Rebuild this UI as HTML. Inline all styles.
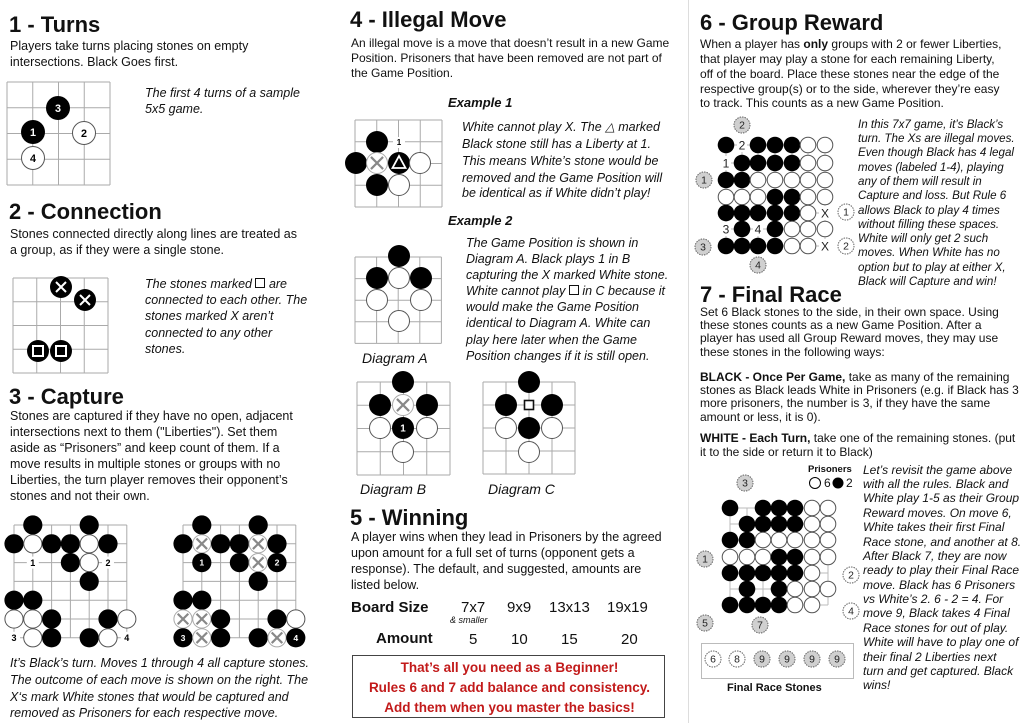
<!DOCTYPE html>
<html><head><meta charset="utf-8">
<style>
body{margin:0;width:1024px;height:723px;background:#fff;position:relative;overflow:hidden;font-family:"Liberation Sans",sans-serif;color:#111}
.t{position:absolute;white-space:nowrap;font-size:12.5px;line-height:1}
.s{font-size:11.6px}
.m{font-size:12px}
.i{font-style:italic}
.h{position:absolute;white-space:nowrap;font-size:22px;font-weight:bold;line-height:1}
.b{font-weight:bold}
svg{position:absolute;left:0;top:0}
</style></head><body>
<div style="position:absolute;left:688px;top:0;width:1px;height:723px;background:#ddd"></div>

<!-- Column 1 -->
<div class="h" style="left:9px;top:14px">1 - Turns</div>
<div class="t" style="left:10px;top:40px">Players take turns placing stones on empty</div>
<div class="t" style="left:10px;top:56px">intersections. Black Goes first.</div>
<div class="t i" style="left:145px;top:87px">The first 4 turns of a sample</div>
<div class="t i" style="left:145px;top:103px">5x5 game.</div>

<div class="h" style="left:9px;top:201px">2 - Connection</div>
<div class="t" style="left:10px;top:228px">Stones connected directly along lines are treated as</div>
<div class="t" style="left:10px;top:244px">a group, as if they were a single stone.</div>
<div class="t i" style="left:145px;top:278px">The stones marked <span style="display:inline-block;width:8px;height:8px;border:1px solid #111"></span> are</div>
<div class="t i" style="left:145px;top:294px">connected to each other. The</div>
<div class="t i" style="left:145px;top:310px">stones marked X aren’t</div>
<div class="t i" style="left:145px;top:327px">connected to any other</div>
<div class="t i" style="left:145px;top:343px">stones.</div>

<div class="h" style="left:9px;top:386px">3 - Capture</div>
<div class="t" style="left:10px;top:410px">Stones are captured if they have no open, adjacent</div>
<div class="t" style="left:10px;top:426px">intersections next to them ("Liberties"). Set them</div>
<div class="t" style="left:10px;top:442px">aside as “Prisoners” and keep count of them. If a</div>
<div class="t" style="left:10px;top:458px">move results in multiple stones or groups with no</div>
<div class="t" style="left:10px;top:474px">Liberties, the turn player removes their opponent’s</div>
<div class="t" style="left:10px;top:490px">stones and not their own.</div>
<div class="t i" style="left:10px;top:657px">It’s Black’s turn. Moves 1 through 4 all capture stones.</div>
<div class="t i" style="left:10px;top:674px">The outcome of each move is shown on the right. The</div>
<div class="t i" style="left:10px;top:691px">X‘s mark White stones that would be captured and</div>
<div class="t i" style="left:10px;top:707px">removed as Prisoners for each respective move.</div>

<!-- Column 2 -->
<div class="h" style="left:350px;top:9px">4 - Illegal Move</div>
<div class="t m" style="left:351px;top:37px">An illegal move is a move that doesn’t result in a new Game</div>
<div class="t m" style="left:351px;top:52px">Position. Prisoners that have been removed are not part of</div>
<div class="t m" style="left:351px;top:67px">the Game Position.</div>
<div class="t b i" style="left:448px;top:96px;font-size:13px">Example 1</div>
<div class="t i" style="left:462px;top:121px">White cannot play X. The △ marked</div>
<div class="t i" style="left:462px;top:138px">Black stone still has a Liberty at 1.</div>
<div class="t i" style="left:462px;top:155px">This means White’s stone would be</div>
<div class="t i" style="left:462px;top:172px">removed and the Game Position will</div>
<div class="t i" style="left:462px;top:187px">be identical as if White didn’t play!</div>
<div class="t b i" style="left:448px;top:214px;font-size:13px">Example 2</div>
<div class="t i" style="left:466px;top:237px">The Game Position is shown in</div>
<div class="t i" style="left:466px;top:253px">Diagram A. Black plays 1 in B</div>
<div class="t i" style="left:466px;top:269px">capturing the X marked White stone.</div>
<div class="t i" style="left:466px;top:285px">White cannot play <span style="display:inline-block;width:8px;height:8px;border:1px solid #111"></span> in C because it</div>
<div class="t i" style="left:466px;top:301px">would make the Game Position</div>
<div class="t i" style="left:466px;top:317px">identical to Diagram A. White can</div>
<div class="t i" style="left:466px;top:334px">play here later when the Game</div>
<div class="t i" style="left:466px;top:350px">Position changes if it is still open.</div>
<div class="t i" style="left:362px;top:351px;font-size:14px">Diagram A</div>
<div class="t i" style="left:360px;top:482px;font-size:14px">Diagram B</div>
<div class="t i" style="left:488px;top:482px;font-size:14px">Diagram C</div>

<div class="h" style="left:350px;top:507px">5 - Winning</div>
<div class="t" style="left:351px;top:531px">A player wins when they lead in Prisoners by the agreed</div>
<div class="t" style="left:351px;top:547px">upon amount for a full set of turns (opponent gets a</div>
<div class="t" style="left:351px;top:563px">response). The default, and suggested, amounts are</div>
<div class="t" style="left:351px;top:579px">listed below.</div>
<div class="t b" style="left:351px;top:600px;font-size:15px">Board Size</div>
<div class="t" style="left:461px;top:600px;font-size:15px">7x7</div>
<div class="t" style="left:507px;top:600px;font-size:15px">9x9</div>
<div class="t" style="left:549px;top:600px;font-size:15px">13x13</div>
<div class="t" style="left:607px;top:600px;font-size:15px">19x19</div>
<div class="t i" style="left:450px;top:616px;font-size:9px">&amp; smaller</div>
<div class="t b" style="left:376px;top:631px;font-size:15px">Amount</div>
<div class="t" style="left:469px;top:632px;font-size:15px">5</div>
<div class="t" style="left:511px;top:632px;font-size:15px">10</div>
<div class="t" style="left:561px;top:632px;font-size:15px">15</div>
<div class="t" style="left:621px;top:632px;font-size:15px">20</div>
<div style="position:absolute;left:352px;top:655px;width:313px;height:63px;border:1px solid #444;box-sizing:border-box"></div>
<div class="t b" style="left:352px;width:315px;text-align:center;top:661px;font-size:13.5px;color:#c21a1a">That’s all you need as a Beginner!</div>
<div class="t b" style="left:352px;width:315px;text-align:center;top:681px;font-size:13.5px;color:#c21a1a">Rules 6 and 7 add balance and consistency.</div>
<div class="t b" style="left:352px;width:315px;text-align:center;top:701px;font-size:13.5px;color:#c21a1a">Add them when you master the basics!</div>

<!-- Column 3 -->
<div class="h" style="left:700px;top:12px">6 - Group Reward</div>
<div class="t m" style="left:700px;top:38px">When a player has <b>only</b> groups with 2 or fewer Liberties,</div>
<div class="t m" style="left:700px;top:53px">that player may play a stone for each remaining Liberty,</div>
<div class="t m" style="left:700px;top:68px">off of the board. Place these stones near the edge of the</div>
<div class="t m" style="left:700px;top:83px">respective group(s) or to the side, wherever they’re easy</div>
<div class="t m" style="left:700px;top:97px">to track. This counts as a new Game Position.</div>
<div class="t s i" style="left:858px;top:119px">In this 7x7 game, it’s Black’s</div>
<div class="t s i" style="left:858px;top:133px">turn. The Xs are illegal moves.</div>
<div class="t s i" style="left:858px;top:147px">Even though Black has 4 legal</div>
<div class="t s i" style="left:858px;top:162px">moves (labeled 1-4), playing</div>
<div class="t s i" style="left:858px;top:176px">any of them will result in</div>
<div class="t s i" style="left:858px;top:190px">Capture and loss. But Rule 6</div>
<div class="t s i" style="left:858px;top:205px">allows Black to play 4 times</div>
<div class="t s i" style="left:858px;top:219px">without filling these spaces.</div>
<div class="t s i" style="left:858px;top:233px">White will only get 2 such</div>
<div class="t s i" style="left:858px;top:247px">moves. When White has no</div>
<div class="t s i" style="left:858px;top:262px">option but to play at either X,</div>
<div class="t s i" style="left:858px;top:276px">Black will Capture and win!</div>

<div class="h" style="left:700px;top:284px">7 - Final Race</div>
<div class="t m" style="left:700px;top:306px">Set 6 Black stones to the side, in their own space. Using</div>
<div class="t m" style="left:700px;top:319px">these stones counts as a new Game Position. After a</div>
<div class="t m" style="left:700px;top:332px">player has used all Group Reward moves, they may use</div>
<div class="t m" style="left:700px;top:346px">these stones in the following ways:</div>
<div class="t m" style="left:700px;top:371px"><b>BLACK - Once Per Game,</b> take as many of the remaining</div>
<div class="t m" style="left:700px;top:384px">stones as Black leads White in Prisoners (e.g. if Black has 3</div>
<div class="t m" style="left:700px;top:397px">more prisoners, the number is 3, if they have the same</div>
<div class="t m" style="left:700px;top:411px">amount or less, it is 0).</div>
<div class="t m" style="left:700px;top:432px"><b>WHITE - Each Turn,</b> take one of the remaining stones. (put</div>
<div class="t m" style="left:700px;top:446px">it to the side or return it to Black)</div>
<div class="t m i" style="left:863px;top:464px">Let’s revisit the game above</div>
<div class="t m i" style="left:863px;top:478px">with all the rules. Black and</div>
<div class="t m i" style="left:863px;top:492px">White play 1-5 as their Group</div>
<div class="t m i" style="left:863px;top:507px">Reward moves. On move 6,</div>
<div class="t m i" style="left:863px;top:521px">White takes their first Final</div>
<div class="t m i" style="left:863px;top:536px">Race stone, and another at 8.</div>
<div class="t m i" style="left:863px;top:550px">After Black 7, they are now</div>
<div class="t m i" style="left:863px;top:564px">ready to play their Final Race</div>
<div class="t m i" style="left:863px;top:579px">move. Black has 6 Prisoners</div>
<div class="t m i" style="left:863px;top:593px">vs White’s 2. 6 - 2 = 4. For</div>
<div class="t m i" style="left:863px;top:607px">move 9, Black takes 4 Final</div>
<div class="t m i" style="left:863px;top:622px">Race stones for out of play.</div>
<div class="t m i" style="left:863px;top:636px">White will have to play one of</div>
<div class="t m i" style="left:863px;top:651px">their final 2 Liberties next</div>
<div class="t m i" style="left:863px;top:665px">turn and get captured. Black</div>
<div class="t m i" style="left:863px;top:679px">wins!</div>
<div class="t b" style="left:808px;top:465px;font-size:9.5px">Prisoners</div>
<div class="t" style="left:824px;top:477px;font-size:12px">6</div>
<div class="t" style="left:846px;top:477px;font-size:12px">2</div>
<div style="position:absolute;left:701px;top:643px;width:153px;height:36px;border:1px solid #bbb;box-sizing:border-box"></div>
<div class="t b" style="left:727px;top:683px;font-size:11px">Final Race Stones</div>

<svg id="sv" width="1024" height="723" xmlns="http://www.w3.org/2000/svg"></svg>
<script>
var o='';
function grid(x,y,c,r,s){for(var i=0;i<=c;i++)o+='<line x1="'+(x+i*s)+'" y1="'+y+'" x2="'+(x+i*s)+'" y2="'+(y+r*s)+'" stroke="#aaa" stroke-width="1"/>';for(var j=0;j<=r;j++)o+='<line x1="'+x+'" y1="'+(y+j*s)+'" x2="'+(x+c*s)+'" y2="'+(y+j*s)+'" stroke="#aaa" stroke-width="1"/>';}
function txt(x,y,t,fs,col,w){o+='<text x="'+x+'" y="'+(y+fs*0.36)+'" font-family="Liberation Sans,sans-serif" font-size="'+fs+'" font-weight="'+(w||'bold')+'" fill="'+col+'" text-anchor="middle">'+t+'</text>';}
function B(x,y,r,l){o+='<circle cx="'+x+'" cy="'+y+'" r="'+r+'" fill="#000"/>';if(l)txt(x,y,l,r*0.9,'#fff');}
function W(x,y,r,l){o+='<circle cx="'+x+'" cy="'+y+'" r="'+(r-0.5)+'" fill="#fff" stroke="#555" stroke-width="1"/>';if(l)txt(x,y,l,r*0.9,'#000');}
function X(x,y,r){o+='<circle cx="'+x+'" cy="'+y+'" r="'+(r-0.5)+'" fill="#fff" stroke="#aaa"/>';var d=r*0.55;o+='<path d="M'+(x-d)+' '+(y-d)+'L'+(x+d)+' '+(y+d)+'M'+(x+d)+' '+(y-d)+'L'+(x-d)+' '+(y+d)+'" stroke="#888" stroke-width="2.2"/>';}
function G(x,y,r,l){o+='<circle cx="'+x+'" cy="'+y+'" r="'+r+'" fill="#d0d0d0" stroke="#666" stroke-dasharray="1.5 1"/>';txt(x,y,l,r*1.3,'#222','normal');}
function WG(x,y,r,l){o+='<circle cx="'+x+'" cy="'+y+'" r="'+r+'" fill="#fff" stroke="#666" stroke-dasharray="1.5 1"/>';txt(x,y,l,r*1.3,'#222','normal');}
function L(x,y,l,fs){txt(x,y,l,fs||9,'#000');}
grid(7,82,4,4,25.75);
B(58,108,12,'3');B(33,132,12,'1');W(84,133,12,'2');W(33,158,12,'4');
grid(13,278,4,4,23.75);
B(61,287,11);o+='<path d="M56 282L66 292M66 282L56 292" stroke="#fff" stroke-width="2"/>';
B(85,300,11);o+='<path d="M80 295L90 305M90 295L80 305" stroke="#fff" stroke-width="2"/>';
B(38,351,11);o+='<rect x="33" y="346" width="10" height="10" fill="none" stroke="#fff" stroke-width="2"/>';
B(61,351,11);o+='<rect x="56" y="346" width="10" height="10" fill="none" stroke="#fff" stroke-width="2"/>';
function cap(ox,after){var s=18.8,r=9.6;function P(c,rr){return [ox+c*s,525+rr*s];}
grid(ox,525,6,6,s);
var p;
function b(c,rr,l){p=P(c,rr);B(p[0],p[1],r,l);}
function w(c,rr){p=P(c,rr);if(after)X(p[0],p[1],r);else W(p[0],p[1],r);}
function n(c,rr,l){p=P(c,rr);if(after)B(p[0],p[1],r,l);else{o+='<rect x="'+(p[0]-6)+'" y="'+(p[1]-6)+'" width="12" height="12" fill="#fff"/>';L(p[0],p[1],l,9);}}
b(1,0);b(4,0);
b(0,1);w(1,1);b(2,1);b(3,1);w(4,1);b(5,1);
n(1,2,'1');b(3,2);w(4,2);n(5,2,'2');
b(4,3);b(0,4);b(1,4);
w(0,5);w(1,5);b(2,5);b(5,5);p=P(6,5);W(p[0],p[1],r);
n(0,6,'3');w(1,6);b(2,6);b(4,6);w(5,6);n(6,6,'4');}
cap(14,false);cap(183,true);
var s=21.75;grid(355,120,4,4,s);
B(377,142,11);o+='<rect x="393" y="137" width="12" height="11" fill="#fff"/>';L(399,142,'1',8);
B(356,163,11);X(377,163,11);B(399,163,11);o+='<path d="M399 156L405.5 168H392.5Z" fill="none" stroke="#fff" stroke-width="1.8"/>';W(420,163,11);
B(377,185,11);W(399,185,11);
grid(355,257,4,4,21.6);
B(399,256,11);B(377,278,11);W(399,278,11);B(421,278,11);W(377,300,11);W(421,300,11);W(399,321,11);
grid(357,382,4,4,23.25);
B(403,382,11);B(380,405,11);X(403,405,11);B(427,405,11);W(380,428,11);B(403,428,11,'1');W(427,428,11);W(403,452,11);
grid(483,382,4,4,23);
B(529,382,11);B(506,405,11);o+='<rect x="524.5" y="400.5" width="9" height="9" fill="#fff" stroke="#111" stroke-width="1.6"/>';B(552,405,11);W(506,428,11);B(529,428,11);W(552,428,11);W(529,452,11);
function gb(xs,ys,rows){var r=8.3;
o+='<g stroke="#bbb">';for(var i=0;i<7;i++){o+='<line x1="'+xs[0]+'" y1="'+ys[i]+'" x2="'+xs[6]+'" y2="'+ys[i]+'"/><line x1="'+xs[i]+'" y1="'+ys[0]+'" x2="'+xs[i]+'" y2="'+ys[6]+'"/>';}o+='</g>';
for(var j=0;j<7;j++)for(var i=0;i<7;i++){var ch=rows[j][i],x=xs[i],y=ys[j];
if(ch=='B')B(x,y,r);else if(ch=='W')W(x,y,r);else if(ch=='X'){o+='<rect x="'+(x-6)+'" y="'+(y-7)+'" width="12" height="14" fill="#fff"/>';txt(x,y,'X',12,'#222','normal');}
else if(ch!='.'){o+='<rect x="'+(x-5)+'" y="'+(y-7)+'" width="10" height="14" fill="#fff"/>';txt(x,y,ch,12,'#222','normal');}}}
gb([726,742,758,775,792,808,825],[145,163,180,197,213,229,246],
['B2BBBWW','1BBBBWW','BBWWWWW','WWWBBWW','BBBBBWX','3B4BWWW','BBBBWWX']);
G(742,125,8,'2');G(704,180,8,'1');G(703,247,8,'3');G(758,265,8,'4');WG(846,212,8,'1');WG(846,246,8,'2');
gb([730,747,763,779,795,812,828],[508,524,540,557,573,589,605],
['B.BBBWW','.BBBBWW','BBWWWWW','WWWBBWW','BBBBBW.','.B.BWWW','BBBBWW.']);
G(745,483,8,'3');G(705,559,8,'1');G(705,623,8,'5');G(760,625,8,'7');WG(851,575,8,'2');WG(851,611,8,'4');
o+='<circle cx="815" cy="483" r="5.5" fill="#fff" stroke="#000"/><circle cx="838" cy="483" r="5.5" fill="#000"/>';
WG(713,659,8,'6');WG(737,659,8,'8');G(762,659,8,'9');G(787,659,8,'9');G(812,659,8,'9');G(837,659,8,'9');
document.getElementById('sv').innerHTML=o;
</script>
</body></html>
